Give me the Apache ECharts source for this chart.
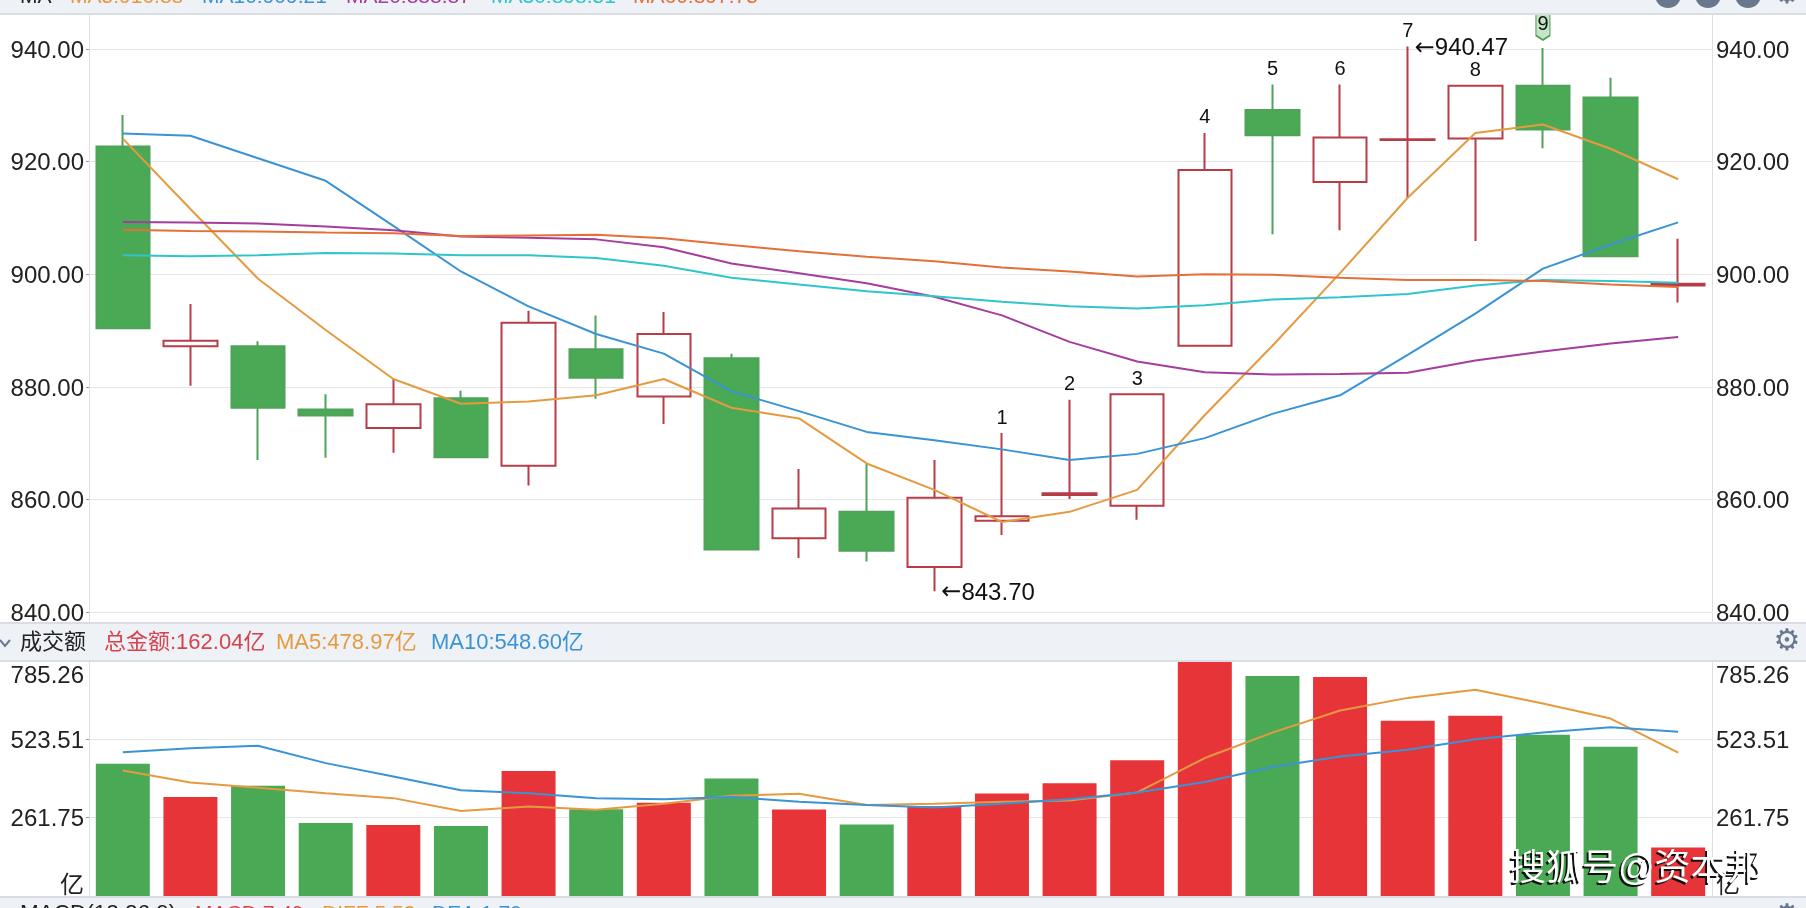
<!DOCTYPE html>
<html>
<head>
<meta charset="utf-8">
<style>
html,body{margin:0;padding:0;background:#fff;overflow:hidden}
#chart{width:1806px;height:908px}
</style>
<script src="https://cdn.jsdelivr.net/npm/echarts@6/dist/echarts.min.js"></script>
</head>
<body>
<div id="chart"></div>
<script>
// Daily candles
const opens  = [922.7,887.2,887.2,876.0,872.7,878.0,866.0,886.7,878.3,885.1,853.1,857.8,848.0,856.2,860.8,858.9,887.3,929.2,916.4,923.85,924.1,933.5,931.4,898.0];
const closes = [890.4,888.2,876.3,874.9,876.9,867.5,891.4,881.6,889.4,851.1,858.4,850.9,860.3,857.0,861.1,878.7,918.5,924.7,924.3,924.0,933.5,925.7,903.2,898.3];
const lows   = [890.4,880.2,867.0,867.4,868.3,867.5,862.5,877.9,873.4,851.1,849.6,849.0,843.7,853.7,860.1,856.4,887.3,907.1,907.8,913.5,905.9,922.4,903.2,895.0];
const highs  = [928.3,894.7,888.1,878.7,881.4,879.3,893.5,892.7,893.3,885.9,865.4,866.4,867.0,871.8,877.7,878.7,925.1,933.7,933.7,940.47,933.5,940.2,934.9,906.3];

// Moving averages of the close
const ma5  = [924.1,911.6,899.2,890.1,881.4,877.0,877.4,878.5,881.4,876.3,874.4,866.4,861.7,856.0,857.8,861.7,875.0,887.3,900.2,913.6,925.1,926.6,922.3,916.88];
const ma10 = [925.0,924.6,920.6,916.6,908.6,900.5,894.3,889.4,885.9,879.2,875.7,872.0,870.5,868.9,867.0,868.1,870.9,875.2,878.5,885.7,893.0,901.0,905.3,909.21];
const ma20 = [909.3,909.2,909.0,908.5,907.8,906.7,906.5,906.2,904.8,901.9,900.2,898.4,896.0,892.7,888.0,884.5,882.6,882.2,882.3,882.5,884.7,886.3,887.7,888.87];
const ma30 = [903.4,903.2,903.4,903.8,903.7,903.4,903.4,902.9,901.5,899.4,898.2,897.0,896.1,895.1,894.3,893.9,894.5,895.5,895.9,896.5,898.0,899.0,898.8,898.51];
const ma60 = [907.9,907.7,907.6,907.4,907.3,906.8,906.9,907.0,906.4,905.2,904.1,903.1,902.3,901.2,900.5,899.6,900.0,899.9,899.4,899.0,899.0,898.8,898.2,897.75];

// Turnover in 亿
const volumes = [441.6,331,368,244,237.6,234,418,290,312,393,289,238.6,300,342.6,377,454,830,735,732,586,602,538.7,498.5,162.04];
const volMa5  = [419.6,379,362,343.5,327,284,299,288,308,335,342,304,308,315,319,346,461,546,620,662,689,643,593,478.97];
const volMa10 = [480.7,494,502,444,399,353.5,343.5,327,323,331,315,304,296,308,323,346,381,431,466,489,524,546,564,548.60];

const categories = opens.map((_, i) => String(i + 1));
const priceTicks = [840, 860, 880, 900, 920, 940];
const volumeTicks = [0, 261.75, 523.51, 785.26];
const countLabels = ['1', '2', '3', '4', '5', '6', '7', '8'];
const countStart = 13;
const pinIndex = 21;
const pinLabel = '9';
const extremes = [[19, 940.47], [12, 843.70]];

const RED = '#b63c48', GREEN = '#4aa955', GREEN_EDGE = '#4ea259', BAR_RED = '#e63439';
const C_MA5 = '#e69a40', C_MA10 = '#3a93d4', C_MA20 = '#a53d9e', C_MA30 = '#2fc5cd', C_MA60 = '#e56f37';
const FONT = '"Liberation Sans","Noto Sans CJK SC",sans-serif';
const LINE = '#e5e6ea', EDGE = '#dcdfe6', BAND = '#eef1f6', RULE = '#dadde3', ICON = '#69778f';

const maSeries = (name, data, color, axis) => ({
  name, type: 'line', data, xAxisIndex: axis, yAxisIndex: axis === 0 ? 0 : 2,
  showSymbol: false, symbol: 'none', silent: true, z: 5,
  lineStyle: { color, width: 2 }, itemStyle: { color }
});

// A short line box on a top-aligned label nudges the digits just below the tick
const priceAxis = (position, isLeft) => ({
  type: 'value', gridIndex: 0, position, min: 838.06, max: 946.23, scale: true,
  axisLine: { show: true, lineStyle: { color: EDGE, width: 1 } },
  axisTick: { show: isLeft, length: 3, inside: false, customValues: priceTicks, lineStyle: { color: '#999' } },
  splitLine: { show: isLeft, lineStyle: { color: LINE, width: 1 } },
  axisLabel: {
    customValues: priceTicks, color: '#222', fontFamily: FONT, fontSize: 24,
    verticalAlign: 'top', lineHeight: 4,
    margin: isLeft ? 5 : 4, formatter: v => v.toFixed(2)
  }
});

const volumeLabelStyle = lineHeight => ({ color: '#222', fontFamily: FONT, fontSize: 24, lineHeight });
const volumeAxis = (position, isLeft) => ({
  type: 'value', gridIndex: 1, position, min: 0, max: 785.26,
  axisLine: { show: true, lineStyle: { color: EDGE, width: 1 } },
  axisTick: { show: isLeft, length: 3, customValues: volumeTicks, lineStyle: { color: '#999' } },
  splitLine: { show: isLeft, lineStyle: { color: LINE, width: 1 } },
  axisLabel: {
    customValues: volumeTicks, margin: isLeft ? 5 : 4,
    verticalAlign: 'top', verticalAlignMinLabel: 'bottom', verticalAlignMaxLabel: 'top',
    rich: { mid: volumeLabelStyle(4), top: volumeLabelStyle(30), unit: volumeLabelStyle(20) },
    formatter: v => v === 0 ? '{unit|亿}' : v === 785.26 ? '{top|785.26}' : '{mid|' + v.toFixed(2) + '}'
  }
});

const text = (x, y, str, fill, fontSize, extra) => ({
  type: 'text', x, y, z: 100, silent: true,
  style: Object.assign({ text: str, fill, font: fontSize + 'px ' + FONT, verticalAlign: 'middle' }, extra || {})
});
const band = (y, height) => ({
  type: 'rect', z: 90, silent: true, shape: { x: 0, y, width: 1806, height },
  style: { fill: BAND }
});
const rule = (y, height) => ({
  type: 'rect', z: 91, silent: true, shape: { x: 0, y, width: 1806, height: height || 2 },
  style: { fill: RULE }
});
const dot = (cx, cy, r) => ({
  type: 'circle', z: 95, silent: true, shape: { cx, cy, r }, style: { fill: ICON }
});
const gear = (x, y, size) => text(x, y, '\u2699', ICON, size, {
  font: size + 'px "DejaVu Sans"', align: 'center'
});

const chart = echarts.init(document.getElementById('chart'), null, { renderer: 'canvas' });
chart.setOption({
  animation: false,
  backgroundColor: '#fff',
  grid: [
    { left: 89, right: 94, top: 14, height: 609 },
    { left: 89, right: 94, top: 661, height: 235 }
  ],
  xAxis: [0, 1].map(i => ({
    type: 'category', gridIndex: i, data: categories, boundaryGap: true,
    axisLine: { show: false }, axisTick: { show: false }, axisLabel: { show: false }, splitLine: { show: false }
  })),
  yAxis: [
    priceAxis('left', true), priceAxis('right', false),
    volumeAxis('left', true), volumeAxis('right', false)
  ],
  series: [
    {
      name: 'K', type: 'candlestick', xAxisIndex: 0, yAxisIndex: 0, barWidth: 54, z: 2,
      data: opens.map((o, i) => [o, closes[i], lows[i], highs[i]]),
      itemStyle: { color: 'rgba(255,255,255,0)', color0: GREEN, borderColor: RED, borderColor0: GREEN_EDGE, borderWidth: 2 }
    },
    maSeries('MA5', ma5, C_MA5, 0),
    maSeries('MA10', ma10, C_MA10, 0),
    maSeries('MA20', ma20, C_MA20, 0),
    maSeries('MA30', ma30, C_MA30, 0),
    maSeries('MA60', ma60, C_MA60, 0),
    {
      name: 'count', type: 'scatter', xAxisIndex: 0, yAxisIndex: 0, symbolSize: 0, z: 6, silent: true,
      itemStyle: { opacity: 1 },
      data: countLabels.map((t, i) => ({ value: [countStart + i, highs[countStart + i]], text: t })),
      label: { show: true, position: 'top', distance: 5, color: '#111', fontFamily: FONT, fontSize: 20, formatter: p => p.data.text }
    },
    {
      name: 'pin', type: 'scatter', xAxisIndex: 0, yAxisIndex: 0, z: 6, silent: true,
      symbol: 'path://M0 0H10V17L5 20L0 17Z', symbolSize: [14, 30], symbolOffset: [0, -23],
      symbolKeepAspect: false,
      itemStyle: { color: '#c4e6c6', borderColor: '#4f9f5a', borderWidth: 1.5, opacity: 1 },
      data: [[pinIndex, highs[pinIndex]]],
      label: { show: true, position: 'inside', offset: [0, 0], color: '#111', fontFamily: FONT, fontSize: 20, formatter: () => pinLabel }
    },
    {
      name: 'extremes', type: 'scatter', xAxisIndex: 0, yAxisIndex: 0, symbolSize: 0, z: 6, silent: true,
      itemStyle: { opacity: 1 },
      data: extremes,
      label: {
        show: true, position: 'right', distance: 7, offset: [0, 2],
        formatter: p => '{a|\u2190}{b|' + p.value[1].toFixed(2) + '}',
        rich: {
          a: { fontFamily: '"DejaVu Sans"', fontSize: 24, color: '#111' },
          b: { fontFamily: FONT, fontSize: 24, color: '#111' }
        }
      }
    },
    {
      name: '总金额', type: 'bar', xAxisIndex: 1, yAxisIndex: 2, barWidth: 54, z: 2,
      data: volumes.map((v, i) => ({ value: v, itemStyle: { color: closes[i] >= opens[i] ? BAR_RED : GREEN } }))
    },
    maSeries('VolMA5', volMa5, C_MA5, 1),
    maSeries('VolMA10', volMa10, C_MA10, 1)
  ],
  graphic: [
    band(0, 14), rule(13),
    band(623, 38), rule(622), rule(660),
    band(896, 12), rule(896),

    text(20, -3, 'MA', '#222', 21),
    text(70, -3, 'MA5:916.88', C_MA5, 21),
    text(202, -3, 'MA10:909.21', C_MA10, 21),
    text(346, -3, 'MA20:888.87', C_MA20, 21),
    text(491, -3, 'MA30:898.51', C_MA30, 21),
    text(633, -3, 'MA60:897.75', C_MA60, 21),
    dot(1668, -5, 13), dot(1708, -5, 13), dot(1748, -5, 13), gear(1787, -5, 30),

    { type: 'polyline', z: 95, silent: true, shape: { points: [[0, 640], [5, 646], [10, 640]] }, style: { stroke: ICON, lineWidth: 2, fill: 'none' } },
    text(20, 643, '成交额', '#222', 22),
    text(104, 643, '总金额:162.04亿', '#d5434e', 22),
    text(276, 643, 'MA5:478.97亿', C_MA5, 22),
    text(431, 643, 'MA10:548.60亿', C_MA10, 22),
    gear(1787, 642, 30),

    text(20, 914, 'MACD(12,26,9)', '#222', 22.5),
    text(195, 914, 'MACD:7.49', '#d5434e', 21),
    text(322, 914, 'DIFF:5.53', C_MA5, 21),
    text(432, 914, 'DEA:1.79', C_MA10, 21),
    gear(1787, 917, 30),

    // Site credit: dark offset copy under a white copy
    text(1508, 872, '搜狐号@资本邦', '#111', 36),
    text(1510, 870, '搜狐号@资本邦', '#fff', 36)
  ]
});
</script>
</body>
</html>
